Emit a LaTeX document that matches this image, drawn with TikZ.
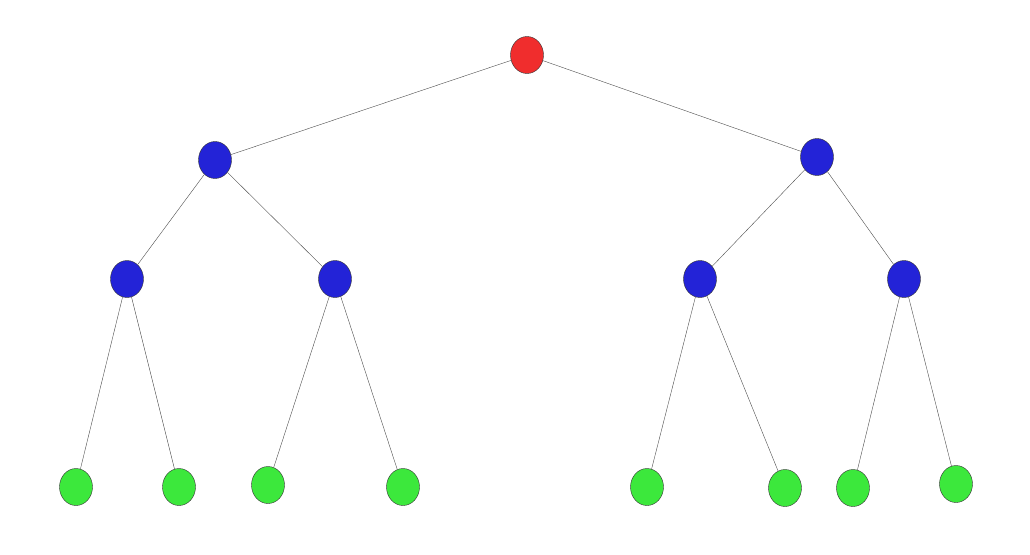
\documentclass[tikz,border=0pt]{standalone}
\usetikzlibrary{shapes.geometric}
\definecolor{rootred}{RGB}{240,45,45}
\definecolor{innerblue}{RGB}{35,35,215}
\definecolor{leafgreen}{RGB}{60,232,60}
\begin{document}
\begin{tikzpicture}
	[x=1pt,y=-1pt,
	 %Styles
	 tree_node/.style={ellipse,draw=black!80,thin,minimum width=33pt,minimum height=37pt,inner sep=0pt},
	 root_node/.style={tree_node,fill=rootred},
	 inner_node/.style={tree_node,fill=innerblue},
	 leaf_node/.style={tree_node,fill=leafgreen},
	 branch/.style={draw=black!70,thin}
	]
	\useasboundingbox (0,0) rectangle (1030,554);

	%Node placement
	\node (root) [root_node] at (527,55) {};
	\node (a) [inner_node] at (215,160) {};
	\node (b) [inner_node] at (817,157) {};
	\node (aa) [inner_node] at (127,279) {};
	\node (ab) [inner_node] at (335,279) {};
	\node (ba) [inner_node] at (700,279) {};
	\node (bb) [inner_node] at (904,279) {};
	\node (aa1) [leaf_node] at (76,487) {};
	\node (aa2) [leaf_node] at (179,487) {};
	\node (ab1) [leaf_node] at (268,485) {};
	\node (ab2) [leaf_node] at (403,487) {};
	\node (ba1) [leaf_node] at (647,487) {};
	\node (ba2) [leaf_node] at (785,488) {};
	\node (bb1) [leaf_node] at (853,488) {};
	\node (bb2) [leaf_node] at (956,484) {};

	%Edges
	\foreach \p/\c in {root/a,root/b,a/aa,a/ab,b/ba,b/bb,aa/aa1,aa/aa2,ab/ab1,ab/ab2,ba/ba1,ba/ba2,bb/bb1,bb/bb2}
		\path[branch] (\p) -- (\c);
\end{tikzpicture}
\end{document}
